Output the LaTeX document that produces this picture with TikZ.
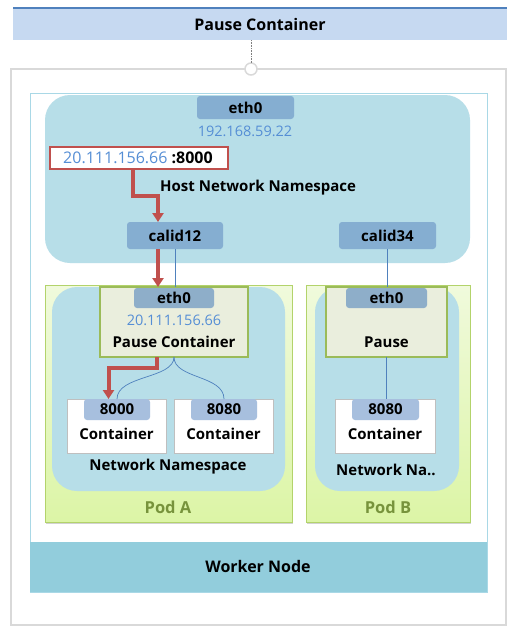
\documentclass[tikz,border=0pt]{standalone}
\usepackage{fontspec}
\setmainfont{Open Sans}
\usetikzlibrary{arrows.meta,shadows}
\definecolor{bannerfill}{HTML}{C6D9F1}
\definecolor{bannerline}{HTML}{4F81BD}
\definecolor{framegrey}{HTML}{D9D9D9}
\definecolor{workerline}{HTML}{A9D8E6}
\definecolor{workerband}{HTML}{92CDDC}
\definecolor{nsfill}{HTML}{B7DEE8}
\definecolor{ifacefill}{HTML}{85AED1}
\definecolor{podeth}{HTML}{8EAEC9}
\definecolor{porttab}{HTML}{A7BFDE}
\definecolor{ipblue}{HTML}{558ED5}
\definecolor{redarr}{HTML}{C0504D}
\definecolor{pausefill}{HTML}{EAEEDD}
\definecolor{pauseline}{HTML}{9BBB59}
\definecolor{podtop}{HTML}{F0FADC}
\definecolor{podbot}{HTML}{DCF5A6}
\definecolor{podline}{HTML}{B3D36B}
\definecolor{podtext}{HTML}{77933C}
\definecolor{linkblue}{HTML}{4F81BD}
\definecolor{contline}{HTML}{BFBFBF}
\tikzset{
  box/.style={inner sep=0pt, outer sep=0pt},
  iface/.style={box, fill=ifacefill, rounded corners=3pt, font=\bfseries\fontsize{15}{17}\selectfont},
  podiface/.style={box, fill=podeth, rounded corners=3pt, font=\bfseries\fontsize{15}{17}\selectfont},
  porttabbox/.style={box, fill=porttab, rounded corners=3pt, font=\bfseries\fontsize{15}{17}\selectfont},
  nsbox/.style={box, fill=nsfill, rounded corners=25pt},
  podbox/.style={box, top color=podtop, bottom color=podbot, draw=podline, line width=1pt,
     drop shadow={shadow xshift=1pt, shadow yshift=-1.5pt, opacity=0.35}},
  pausebox/.style={box, fill=pausefill, draw=pauseline, line width=2pt},
  contbox/.style={box, fill=white, draw=contline, line width=0.8pt,
     drop shadow={shadow xshift=1pt, shadow yshift=-1pt, opacity=0.3}},
  lbl/.style={inner sep=0pt, font=\bfseries\fontsize{15}{17}\selectfont},
  biglbl/.style={inner sep=0pt, font=\bfseries\fontsize{16}{18}\selectfont},
  iplbl/.style={inner sep=0pt, text=ipblue, font=\fontsize{14.5}{17}\selectfont},
  podlbl/.style={inner sep=0pt, text=podtext, font=\bfseries\fontsize{16.5}{18}\selectfont},
  redpath/.style={draw=redarr, line width=4pt, -{Triangle[width=11pt,length=9pt]}},
  link/.style={draw=linkblue, line width=0.7pt},
}
\begin{document}
\begin{tikzpicture}[x=1pt,y=-1pt]
\useasboundingbox (0,0) rectangle (514,632);
% banner
\node[box, fill=bannerfill, minimum width=494pt, minimum height=32pt] (banner) at (260,24) {};
\draw[bannerline, line width=2pt] (banner.north west) -- (banner.north east);
\node[biglbl] (bannertxt) at (260,24) {Pause Container};
% outer frame
\node[box, draw=framegrey, line width=2pt, fill=white, minimum width=495pt, minimum height=556pt] (frame) at (258.5,347) {};
\node[box, draw=framegrey, fill=white, line width=1.5pt, circle, minimum size=12pt] (hook) at (251,69) {};
\draw[gray, densely dotted, line width=0.6pt] (banner.south -| hook) -- (hook.north);
% worker node
\node[box, draw=workerline, line width=1pt, minimum width=457pt, minimum height=499pt] (worker) at (258.5,342.5) {};
\node[box, fill=workerband, minimum width=457pt, minimum height=50pt] (band) at (258.5,567) {};
\node[biglbl] (workertxt) at (258,566) {Worker Node};
% host network namespace
\node[nsbox, minimum width=425pt, minimum height=168pt] (hostns) at (257.5,179) {};
\node[iface, minimum width=97pt, minimum height=23pt] (eth0h) at (245.5,107.5) {eth0};
\node[iplbl] (iph) at (245,131) {192.168.59.22};
\node[box, fill=white, draw=redarr, line width=1.2pt, minimum width=178pt, minimum height=22pt] (redbox) at (139,158) {};
\node[inner sep=0pt, font=\fontsize{16}{18}\selectfont] (redtxt) at (138,158) {\textcolor{ipblue}{20.111.156.66} \textbf{:8000}};
\node[lbl, anchor=west] (hnn) at (160,188) {Host Network Namespace};
\node[iface, minimum width=96pt, minimum height=27pt] (calid12) at (175,235.5) {calid12};
\node[iface, minimum width=97pt, minimum height=27pt] (calid34) at (387.5,235.5) {calid34};
% pods
\node[podbox, minimum width=247pt, minimum height=237pt] (podA) at (168.5,403.5) {};
\node[podbox, minimum width=164pt, minimum height=237pt] (podB) at (388,403.5) {};
\node[nsbox, minimum width=233pt, minimum height=204pt] (nsA) at (168.5,389) {};
\node[nsbox, minimum width=144pt, minimum height=204pt] (nsB) at (387,389) {};
\node[podlbl] (podAtxt) at (168,507) {Pod A};
\node[podlbl] (podBtxt) at (388,507) {Pod B};
\node[lbl] (nnA) at (168,467) {Network Namespace};
\node[lbl] (nnB) at (386,470) {Network Na..};
% pause containers
\node[pausebox, minimum width=148pt, minimum height=70pt] (pauseA) at (174,322) {};
\node[podiface, minimum width=80pt, minimum height=20pt] (eth0A) at (174,298) {eth0};
\node[iplbl] (ipA) at (174,320) {20.111.156.66};
\node[lbl] (pauseAtxt) at (174,342) {Pause Container};
\node[pausebox, minimum width=121pt, minimum height=70pt] (pauseB) at (386.5,322) {};
\node[podiface, minimum width=81pt, minimum height=20pt] (eth0B) at (386.5,298) {eth0};
\node[lbl] (pauseBtxt) at (386.5,342) {Pause};
% containers
\node[contbox, minimum width=99pt, minimum height=54pt] (c8000) at (116.5,426) {};
\node[porttabbox, minimum width=66pt, minimum height=21pt] (t8000) at (117,409.5) {8000};
\node[lbl] (c8000txt) at (116.5,434) {Container};
\node[contbox, minimum width=99pt, minimum height=54pt] (c8080A) at (223.5,426) {};
\node[porttabbox, minimum width=66pt, minimum height=21pt] (t8080A) at (224,409.5) {8080};
\node[lbl] (c8080Atxt) at (223.5,434) {Container};
\node[contbox, minimum width=100pt, minimum height=54pt] (cB) at (385,426) {};
\node[porttabbox, minimum width=67pt, minimum height=21pt] (tB) at (385.5,409.5) {8080};
\node[lbl] (cBtxt) at (385,434) {Container};
% links
\draw[link] (calid12.south) -- (calid12.south |- pauseA.north);
\draw[link] (calid34.south) -- (calid34.south |- pauseB.north);
\draw[link] (pauseA.south) .. controls +(0,22) and +(0,-24) .. (t8000.north);
\draw[link] (pauseA.south) .. controls +(0,22) and +(0,-24) .. (t8080A.north);
\draw[link] (pauseB.south) -- (pauseB.south |- tB.north);
% red traffic path
\draw[redpath] ([xshift=-6pt]redbox.south) -- ++(0,27) -| ([xshift=-17pt]calid12.north);
\draw[redpath] ([xshift=-17pt]calid12.south) -- ([xshift=-16pt]pauseA.north);
\draw[redpath] ([xshift=-17pt]pauseA.south) -- ++(0,11) -| ([xshift=-8pt]c8000.north);
\end{tikzpicture}
\end{document}
